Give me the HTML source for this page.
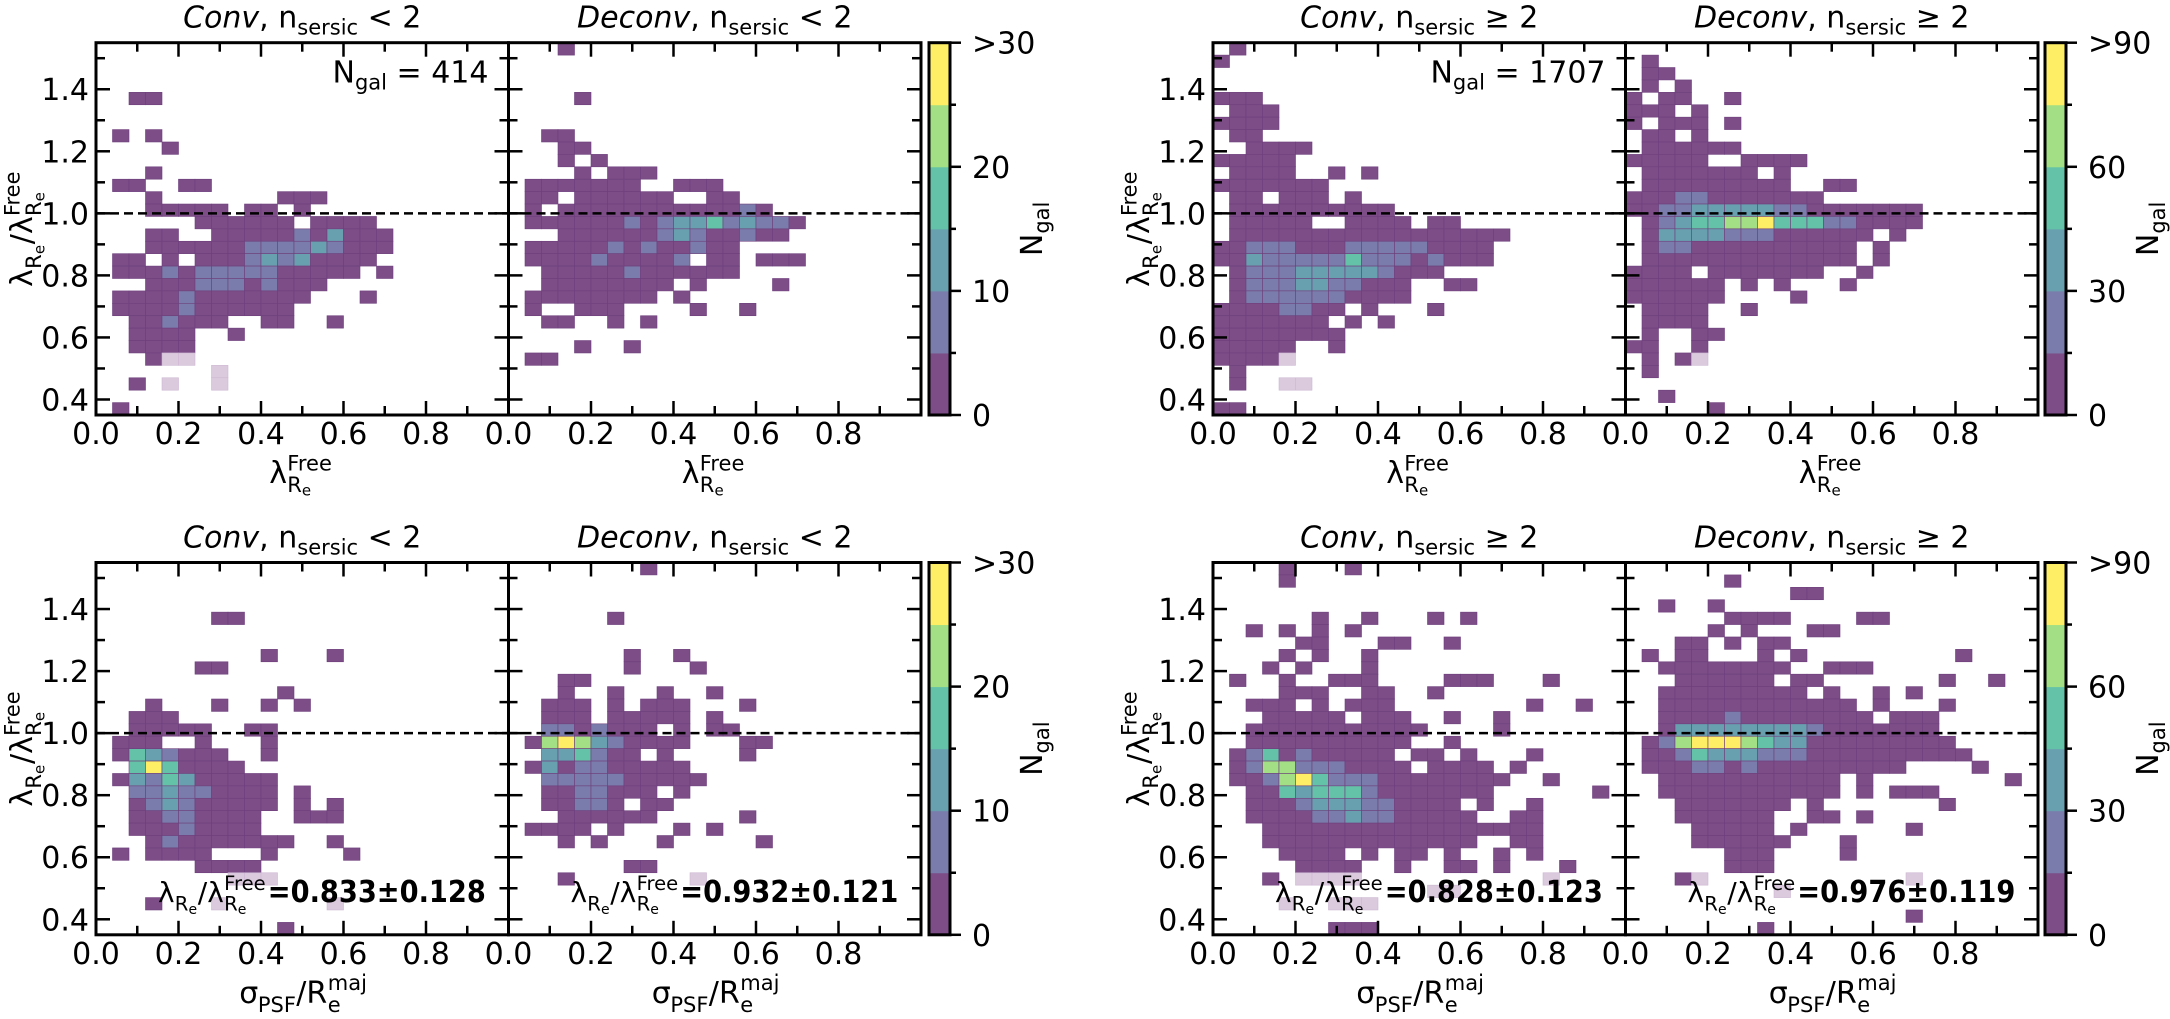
<!DOCTYPE html>
<html><head><meta charset="utf-8"><style>
html,body{margin:0;padding:0;background:#fff;}
svg{display:block;font-family:"DejaVu Sans","Liberation Sans",sans-serif;}
</style></head><body>
<svg id="s" width="2170" height="1019" viewBox="0 0 2170 1019" xmlns="http://www.w3.org/2000/svg"></svg>
<script>
const W=412.5,H=372.3,CW=16.5,RH=12.41;
const COL={p:"#7c4d87",b:"#7a7cab",t:"#69a0b0",g:"#64c2a9",G:"#a2df85",y:"#fdee66",w:"#dbc9de"};
const panels=[
{x:96,y:42.7,c:"4:2-3|7:1,3|8:4|10:3|11:1-2,5-6|12:3,11-13|13:3-7,9-10,12|14:6-11,13-16|15:3-4,7-17|16:3-17|17:1-2,4,6-16|18:1-15,17|19:3-13|20:1-12,16|21:1-11|22:2-7,10-11,14|23:2-5,8|24:2-5|25:3|27:2|29:1",
 k:"15:12:b|15:14:t|16:9-12:b|16:13:t|16:14:b|17:9:b|17:10:t|17:11:b|17:12:t|18:4:b|18:6-10:b|19:6-8:b|19:10:b|20:5:b|21:5:b|22:4:b|25:4-5:w|26:7:w|27:4:w|27:7:w"},
{x:508.5,y:42.7,c:"0:3|4:4|7:2-3|8:3-4|9:3,5|10:4,6-8|11:1-7,10-12|12:1-2,4-9,12-13|13:1,3-15|14:1-17|15:3-16|16:1-13|17:1-10,12-13,15-17|18:2-13|19:2-9,11,16|20:1-8,10|21:1,4-6,11,14|22:2-3,6,8|24:4,7|25:1-2",
 k:"13:14:b|14:7:b|14:9:b|14:10-11:t|14:12:g|14:13:b|14:14:t|14:15-16:b|15:9:b|15:10:t|15:11:b|15:14:b|16:6:b|16:8:b|16:11:b|17:5:b|17:10:b|18:7:b"},
{x:1213,y:42.7,c:"0:1|1:0|4:0-2|5:1-3|6:0-3|7:1-2|8:2-5|9:0-4|10:1-4,7,9|11:0-6|12:1-2,4-6,8|13:1-10|14:1-5,8-11,13-14|15:1-17|16:0-16|17:0-16|18:1-13|19:1-11,14-15|20:1-11|21:0-7,9,13|22:0-6,8,10|23:0-7|24:0-4,7|25:0-3|26:1|27:1|29:0-1",
 k:"16:2-4:b|16:8-12:b|17:2:t|17:3-7:b|17:8:g|17:9-11:b|17:13:b|18:2-4:b|18:5-9:t|18:10:b|19:2-4:b|19:5-6:t|19:7-8:b|20:2-7:b|21:4-5:b|25:4:w|27:4-5:w"},
{x:1625.5,y:42.7,c:"1:1|2:1-2|3:1,3|4:0,2-3,6|5:0-2,4|6:0,2-4,6|7:1-2,4|8:1-6|9:0-4,7-10|10:1-7,9|11:1-9,12-13|12:0-11|13:0-17|14:1-17|15:1-14,16|16:1-13,15|17:1-13,15|18:0-3,5-11,14|19:0-5,7,9,13|20:0-5,10|21:1-4,7|22:1-4|23:1,4-5|24:0-1,4|25:1,3|26:1|28:2|29:5",
 k:"12:3-4:b|13:2-3:b|13:4-8:t|13:9-10:b|14:2:b|14:3:t|14:4-5:g|14:6-7:G|14:8:y|14:9-11:g|14:12-13:b|15:2-5:t|15:6-8:b|16:2-3:b|25:4:w"},
{x:96,y:562.5,c:"4:7-8|7:10,14|8:6-7|10:11|11:3,7,10,12|12:2-4|13:2-6,9-10|14:1-3,6,10|15:1-7,10|16:2-8|17:1-10|18:2-10,12|19:2-10,12,14|20:2-9,12-14|21:2-9|22:3-11,14|23:1,3-6,10,15|24:6-9|27:3|29:11",
 k:"15:2:g|15:3:t|15:4:b|16:2:g|16:3:y|16:4:g|17:2:t|17:3:b|17:4:g|17:5:t|18:2-3:b|18:4:t|18:5-6:b|19:3:b|19:4:t|19:5:b|20:4-5:b|21:5:b|22:4:b|25:8-10:w|27:7:w|27:14:w"},
{x:508.5,y:562.5,c:"0:8|4:6|7:7,10|8:7,11|9:3-4|10:3,6,9,12|11:2-4,6,8-10,14|12:2-4,6-10,12|13:2-8,10,12-13|14:1-10,14-15|15:2-7,9,14|16:1-10|17:2-11|18:2-8,10|19:2-6,8-9|20:3-8,14|21:1-4,6,10,12|22:3,5,9,15|24:7-8|25:3",
 k:"13:2-3:b|13:5:b|14:2:G|14:3:y|14:4:G|14:5:t|14:6:b|15:2:t|15:3:t|15:4:g|15:5:b|16:2:t|16:4-5:b|17:2-6:b|18:4-5:b|19:4-5:b|25:11:w"},
{x:1213,y:562.5,c:"0:4,8|1:4|4:6,9,13,15|5:2,4,6,8|6:5-6,10-11,14|7:4,6,9|8:3,5,9|9:1,4,7-9,14-16,20|10:4-6,9-10,13|11:2-4,6,8-10,19,22|12:3-7,9-11,14,17|13:2-12,17|14:2-11,14|15:1-10,12-13,15,19|16:1-11,13-16,18|17:1-17,20|18:2-16,23|19:2-14,16,19|20:2-15,18-19|21:3-19|22:3-15,18-19|23:4-7,9,11-12,14,17,19|24:5-8,11,14-15,17,21|25:3|29:7-9",
 k:"15:2:b|15:3:g|15:5:b|16:2:b|16:3-4:G|16:5-7:b|17:3:b|17:4:G|17:5:y|17:6:g|17:7-9:b|18:4:g|18:5:t|18:6-8:g|18:9:b|19:5:b|19:6-8:t|19:9-10:b|20:6-7:b|20:8:t|20:9-10:b|25:5-8:w|25:20:w|26:13-14:w|27:4:w|27:7-9:w"},
{x:1625.5,y:562.5,c:"1:6|2:10-11|3:2,5|4:6-9,14-15|5:5,7,11-12|6:3-4,6,8-9|7:1,3-4,8,10,20|8:2-9,12-14|9:3-8,10-11,19,22|10:2-10,12,15,17|11:2-13,15,19|12:2-14,16-18|13:2-18|14:1-19|15:1-20|16:1-16,21|17:2-12,14,23|18:2-12,14,16-18|19:3-9,11,19|20:3-8,11-12,14|21:4-8,10,17|22:4-9,13|23:6-8,13|24:6-8|25:3|28:17|29:8",
 k:"12:6:b|13:3-10:t|13:11:b|14:2:b|14:3:G|14:4-6:y|14:7:G|14:8:g|14:9-10:t|15:3:b|15:4:g|15:5-7:t|15:8-10:b|16:4-5:b|16:7:b|25:4:w|25:17:w|26:9:w"}
];
function rng(s){const o=[];s.split(",").forEach(p=>{if(!p)return;const a=p.split("-").map(Number);if(a.length==1)o.push(a[0]);else for(let i=a[0];i<=a[1];i++)o.push(i);});return o;}
let out="";
function T(x,y,s,txt,extra){return `<text x="${x.toFixed(1)}" y="${y.toFixed(1)}" font-size="${s.toFixed(1)}" ${extra||""}>${txt}</text>`;}
function lamRatio(x,y,s){let r="";
 r+=T(x,y,s,"λ");r+=T(x+0.6*s,y+0.3*s,0.7*s,"R");r+=T(x+1.09*s,y+0.42*s,0.5*s,"e");
 r+=T(x+1.42*s,y,s,"/");r+=T(x+1.76*s,y,s,"λ");
 r+=T(x+2.36*s,y-0.42*s,0.7*s,"Free");r+=T(x+2.36*s,y+0.3*s,0.7*s,"R");r+=T(x+2.85*s,y+0.42*s,0.5*s,"e");return r;}
function lamFree(x,y,s){let r="";r+=T(x,y,s,"λ");r+=T(x+0.6*s,y-0.42*s,0.7*s,"Free");r+=T(x+0.6*s,y+0.3*s,0.7*s,"R");r+=T(x+1.09*s,y+0.42*s,0.5*s,"e");return r;}
function sigLab(x,y,s){let r="";r+=T(x,y,s,"σ");r+=T(x+0.62*s,y+0.3*s,0.7*s,"PSF");r+=T(x+1.9*s,y,s,"/");r+=T(x+2.24*s,y,s,"R");
 r+=T(x+2.95*s,y-0.42*s,0.7*s,"maj");r+=T(x+2.95*s,y+0.3*s,0.7*s,"e");return r;}
const S=30;
panels.forEach((P,pi)=>{
 const cells={};
 P.c.split("|").forEach(e=>{const [r,cs]=e.split(":");rng(cs).forEach(c=>cells[r+","+c]="p");});
 P.k.split("|").forEach(e=>{const [r,cs,k]=e.split(":");rng(cs).forEach(c=>cells[r+","+c]=k);});
 for(const key in cells){const [r,c]=key.split(",").map(Number);const k=cells[key];
  out+=`<rect x="${(P.x+c*CW).toFixed(2)}" y="${(P.y+r*RH).toFixed(2)}" width="${CW}" height="${RH}" fill="${COL[k]}" stroke="${k=='w'?'#cdb8d2':'#6e3f7c'}" stroke-width="0.6"/>`;}
 const yd=P.y+0.55*(H/1.2);
 out+=`<line x1="${P.x}" y1="${yd}" x2="${P.x+W}" y2="${yd}" stroke="#000" stroke-width="2.5" stroke-dasharray="9,5"/>`;
 for(let i=1;i<10;i++){const x=P.x+i*W/10;const L=(i%2==0)?14:9;
  out+=`<line x1="${x}" y1="${P.y}" x2="${x}" y2="${P.y+L}" stroke="#000" stroke-width="2.5"/>`;
  out+=`<line x1="${x}" y1="${P.y+H}" x2="${x}" y2="${P.y+H-L}" stroke="#000" stroke-width="2.5"/>`;}
 for(let v=0.4;v<1.56;v+=0.1){const y=P.y+(1.55-v)*(H/1.2);const maj=Math.round(v*10)%2==0;const L=maj?14:9;
  out+=`<line x1="${P.x}" y1="${y}" x2="${P.x+L}" y2="${y}" stroke="#000" stroke-width="2.5"/>`;
  out+=`<line x1="${P.x+W}" y1="${y}" x2="${P.x+W-L}" y2="${y}" stroke="#000" stroke-width="2.5"/>`;
  if(maj&&(pi%2==0)) out+=T(P.x-7,y+11,S,v.toFixed(1),'text-anchor="end"');}
 out+=`<rect x="${P.x}" y="${P.y}" width="${W}" height="${H}" fill="none" stroke="#000" stroke-width="3"/>`;
 for(let i=0;i<=4;i++){out+=T(P.x+i*W*0.2,P.y+H+29,S,(i*0.2).toFixed(1),'text-anchor="middle"');}
 const ge=pi>=2&&pi<4||pi>=6;const nm=(pi%2==0)?"Conv":"Deconv";
 out+=`<text x="${P.x+W/2}" y="${P.y-15}" font-size="${S}" text-anchor="middle"><tspan font-style="italic">${nm}</tspan>, n<tspan dy="7" font-size="21">sersic</tspan><tspan dy="-7"> ${ge?"≥":"&lt;"} 2</tspan></text>`;
 const cx=P.x+W/2;
 if(P.y<100) out+=lamFree(cx-33,P.y+H+68,S); else out+=sigLab(cx-63,P.y+H+68,S);
 if(pi%2==0){out+=`<g transform="translate(${P.x-64},${P.y+H/2}) rotate(-90)">${lamRatio(-58,0,S)}</g>`;}
 if(pi==0||pi==2){const n=pi==0?"414":"1707";
  out+=`<text x="${P.x+W-20}" y="${P.y+40}" font-size="${S}" text-anchor="end">N<tspan dy="7" font-size="21">gal</tspan><tspan dy="-7"> = ${n}</tspan></text>`;}
 if(P.y>500){const vals=["0.833±0.128","0.932±0.121","0.828±0.123","0.976±0.119"][[4,5,6,7].indexOf(pi)];
  const s2=28;const bx=P.x+62,by=902;out+=lamRatio(bx,by,s2);
  out+=T(bx+3.92*s2,by,S,"="+vals,'font-weight="bold" textLength="218" lengthAdjust="spacingAndGlyphs"');}
});
const CB=[[929,42.7,["0","10","20",">30"]],[2045,42.7,["0","30","60",">90"]],[929,562.5,["0","10","20",">30"]],[2045,562.5,["0","30","60",">90"]]];
const seg=["#7c4d87","#7a7cab","#69a0b0","#64c2a9","#a2df85","#fdee66"];
CB.forEach(([x,y,labs])=>{const w=21;const h=H/6;
 seg.forEach((c,i)=>{out+=`<rect x="${x}" y="${y+H-(i+1)*h}" width="${w}" height="${h+0.5}" fill="${c}"/>`;});
 out+=`<rect x="${x}" y="${y}" width="${w}" height="${H}" fill="none" stroke="#000" stroke-width="3"/>`;
 for(let i=0;i<=6;i++){const yy=y+H-i*h;const L=i%2==0?11:6;out+=`<line x1="${x+w}" y1="${yy}" x2="${x+w+L}" y2="${yy}" stroke="#000" stroke-width="2.5"/>`;
  if(i%2==0) out+=T(x+w+22,yy+11,S,labs[i/2].replace(">","&gt;"));}
 out+=`<g transform="translate(${x+w+92},${y+H/2}) rotate(-90)"><text x="0" y="0" font-size="${S}" text-anchor="middle">N<tspan dy="7" font-size="21">gal</tspan></text></g>`;
});
document.getElementById("s").innerHTML=out;
</script>
</body></html>
